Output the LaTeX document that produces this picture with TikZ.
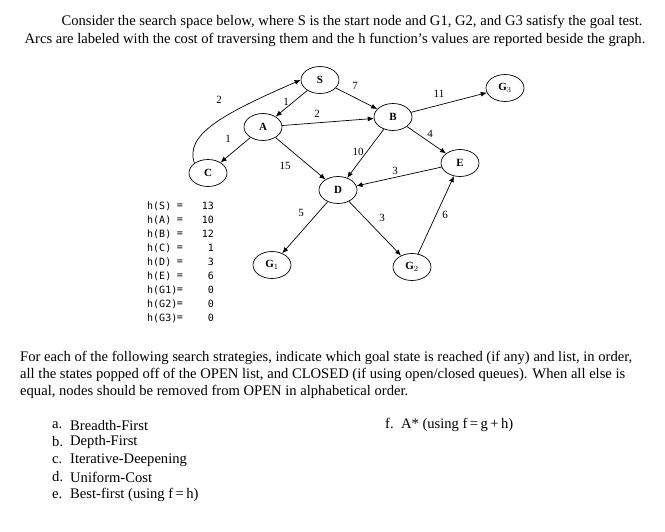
\documentclass[tikz,border=0pt]{standalone}
\usepackage{fontspec}
\setmainfont{Liberation Serif}
\newfontfamily\hmono{DejaVu Sans Mono}
\usetikzlibrary{shapes.geometric,arrows.meta}
\begin{document}
\begin{tikzpicture}[x=1pt,y=-1pt,
 st/.style={draw,ellipse,minimum width=38pt,minimum height=27pt,inner sep=0pt,line width=0.7pt,font=\fontsize{11}{12}\selectfont\bfseries},
 ar/.style={-{Latex[length=6pt,width=5pt]},line width=0.7pt},
 lb/.style={font=\fontsize{11}{12}\selectfont},
 tx/.style={anchor=west,inner sep=0pt,font=\fontsize{14.6}{16}\selectfont},
 hv/.style={inner sep=0pt,font=\hmono\fontsize{10}{11}\selectfont}]
\useasboundingbox (0,0) rectangle (665,531);
\node[tx,anchor=center] (t1) at (352,22) {Consider the search space below, where S is the start node and G1, G2, and G3 satisfy the goal test.};
\node[tx,anchor=center] (t2) at (335,40) {Arcs are labeled with the cost of traversing them and the h function's values are reported beside the graph.};
\node[st] (S) at (320,80) {S};
\node[st] (A) at (263,127) {A};
\node[st] (B) at (393,117) {B};
\node[st] (C) at (208,173) {C};
\node[st] (D) at (338,190) {D};
\node[st] (E) at (460,163) {E};
\node[st] (G3) at (505,88) {G$_3$};
\node[st] (G1) at (272,265) {G$_1$};
\node[st] (G2) at (412,267) {G$_2$};
\draw[ar] (C.north west) .. controls (185,135) and (220,115) .. (S.west);
\draw[ar] (S) -- (A);
\draw[ar] (S) -- (B);
\draw[ar] (A) -- (B);
\draw[ar] (B) -- (G3);
\draw[ar] (A) -- (C);
\draw[ar] (A) -- (D);
\draw[ar] (B) -- (D);
\draw[ar] (B) -- (E);
\draw[ar] (E) -- (D);
\draw[ar] (D) -- (G1);
\draw[ar] (D) -- (G2);
\draw[ar] (G2) -- (E);
\node[lb] (l1) at (219,100) {2};
\node[lb] (l2) at (286,102) {1};
\node[lb] (l3) at (355,86) {7};
\node[lb] (l4) at (317,114) {2};
\node[lb] (l5) at (439,94) {11};
\node[lb] (l6) at (228,139) {1};
\node[lb] (l7) at (358,152) {10};
\node[lb] (l8) at (430,134) {4};
\node[lb] (l9) at (285,166) {15};
\node[lb] (l10) at (395,171) {3};
\node[lb] (l11) at (301,213) {5};
\node[lb] (l12) at (382,218) {3};
\node[lb] (l13) at (445,215) {6};
\foreach \n/\v [count=\i from 0] in {S/13,A/10,B/12,C/1,D/3,E/6,G1/0,G2/0,G3/0}{
  \node[hv,anchor=west] (h\i) at (147,206+14*\i) {h(\n)};
  \node[hv] (e\i) at (180,206+14*\i) {=};
  \node[hv,anchor=east] (v\i) at (214,206+14*\i) {\v};
}
\node[tx] (p1) at (20,358) {For each of the following search strategies, indicate which goal state is reached (if any) and list, in order,};
\node[tx] (p2) at (20,375) {all the states popped off of the OPEN list, and CLOSED (if using open/closed queues). When all else is};
\node[tx] (p3) at (20,392) {equal, nodes should be removed from OPEN in alphabetical order.};
\foreach \l/\t/\y in {a/Breadth-First/425,b/Depth-First/442,c/Iterative-Deepening/460,d/Uniform-Cost/477,e/{Best-first (using f\,=\,h)}/495}{
  \node[tx] (q\l) at (52,\y) {\l.};
  \node[tx] (r\l) at (70,\y) {\t};
}
\node[tx] (qf) at (385,425) {f.\ \ A* (using f\,=\,g\,+\,h)};
\end{tikzpicture}
\end{document}
